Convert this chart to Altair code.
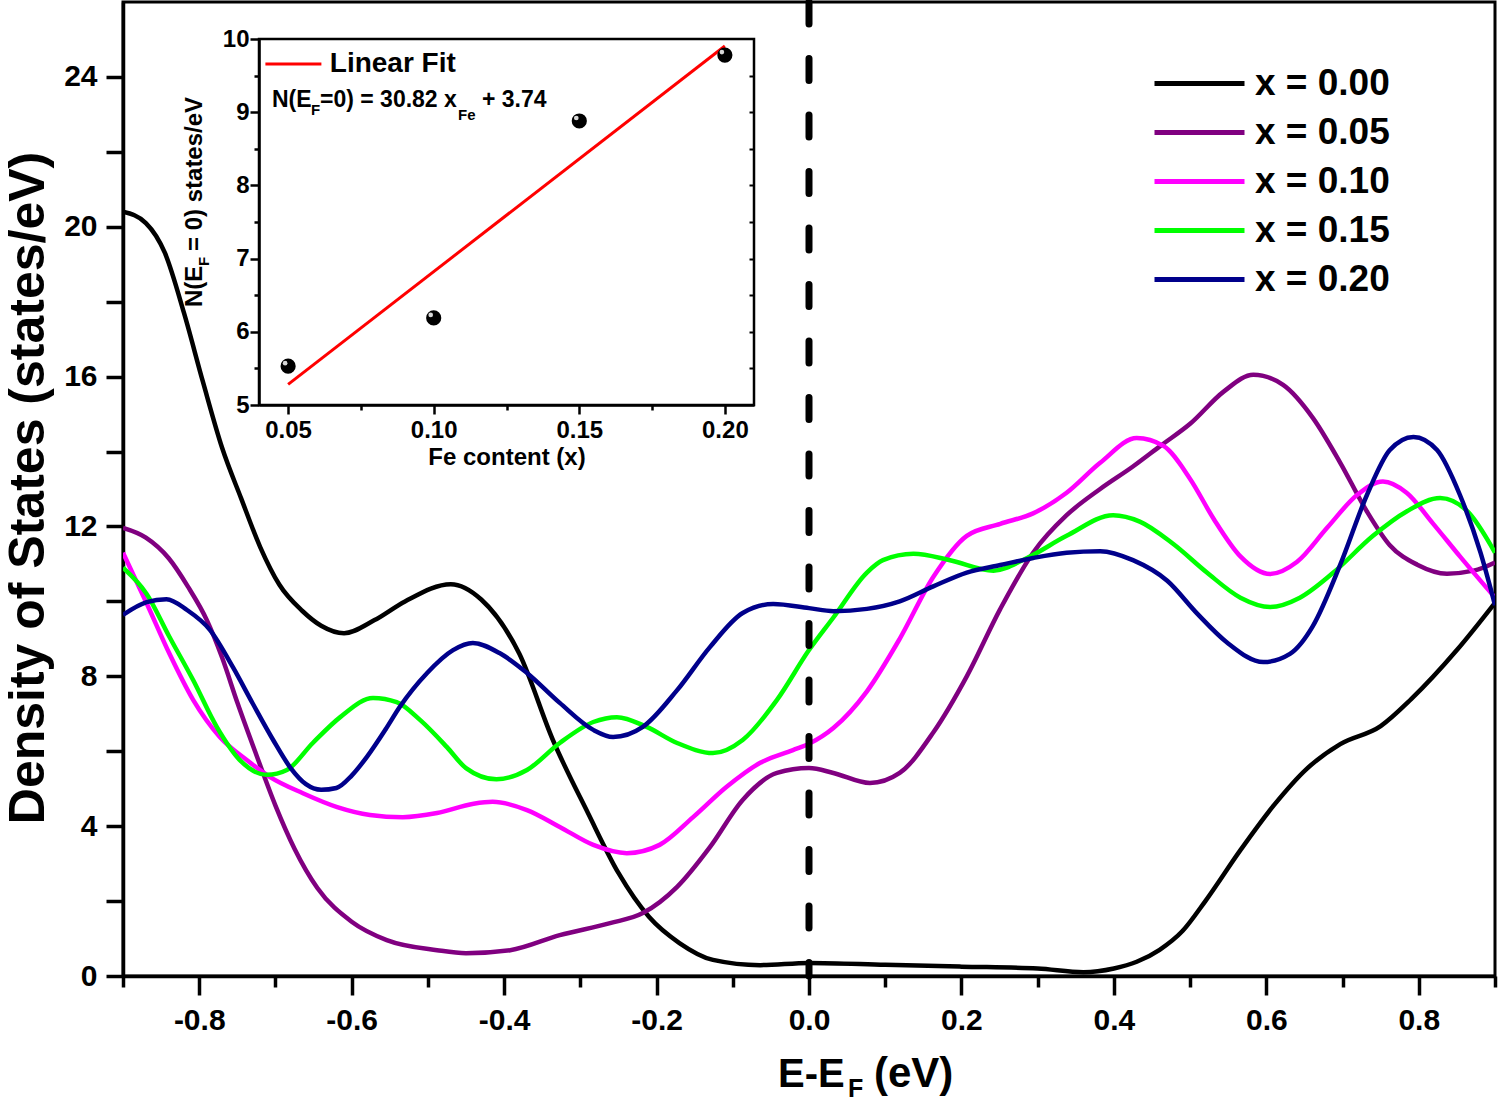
import altair as alt
import pandas as pd

# ---------------- main panel: density of states ----------------
series_names = ["x = 0.00", "x = 0.05", "x = 0.10", "x = 0.15", "x = 0.20"]
series_colors = ["#000000", "#800080", "#ff00ff", "#00ff00", "#00008b"]

e_000 = [-0.90, -0.87, -0.845, -0.82, -0.795, -0.77, -0.745, -0.72, -0.695, -0.665, -0.64, -0.61,
         -0.57, -0.53, -0.47, -0.43, -0.38, -0.336, -0.29, -0.25, -0.21, -0.17, -0.126, -0.064,
         0.0, 0.1, 0.2, 0.3, 0.36, 0.40, 0.43, 0.46, 0.49, 0.52, 0.566, 0.61, 0.653, 0.697,
         0.75, 0.79, 0.85, 0.90]
d_000 = [20.4, 20.1, 19.3, 17.7, 15.85, 14.1, 12.75, 11.45, 10.45, 9.75, 9.35, 9.15,
         9.5, 10.0, 10.46, 10.05, 8.6, 6.3, 4.35, 2.75, 1.58, 0.88, 0.43, 0.29,
         0.35, 0.3, 0.25, 0.2, 0.1, 0.2, 0.38, 0.7, 1.2, 2.0, 3.36, 4.56, 5.53, 6.19,
         6.67, 7.39, 8.7, 9.96]

e_005 = [-0.90, -0.87, -0.84, -0.815, -0.79, -0.77, -0.75, -0.725, -0.70, -0.675, -0.645,
         -0.60, -0.554, -0.488, -0.45, -0.392, -0.327, -0.261, -0.218, -0.173, -0.13, -0.087,
         -0.042, 0.0, 0.032, 0.08, 0.119, 0.163, 0.207, 0.251, 0.294, 0.338, 0.382, 0.425,
         0.461, 0.5, 0.544, 0.583, 0.622, 0.661, 0.697, 0.732, 0.762, 0.798, 0.837, 0.872, 0.90]
d_005 = [11.96, 11.7, 11.15, 10.4, 9.5, 8.5, 7.3, 5.9, 4.55, 3.4, 2.35,
         1.45, 0.96, 0.69, 0.61, 0.69, 1.09, 1.41, 1.68, 2.38, 3.44, 4.7,
         5.42, 5.55, 5.42, 5.15, 5.42, 6.5, 8.0, 9.8, 11.3, 12.3, 13.0, 13.6,
         14.15, 14.74, 15.6, 16.05, 15.78, 14.9, 13.7, 12.4, 11.5, 10.98, 10.74, 10.82, 11.04]

e_010 = [-0.90, -0.869, -0.839, -0.808, -0.773, -0.738, -0.707, -0.664, -0.619, -0.576, -0.533,
         -0.488, -0.44, -0.415, -0.37, -0.327, -0.283, -0.239, -0.196, -0.152, -0.108, -0.064,
         -0.021, 0.0, 0.032, 0.076, 0.119, 0.163, 0.207, 0.251, 0.294, 0.338, 0.382, 0.43,
         0.465, 0.5, 0.531, 0.566, 0.605, 0.64, 0.68, 0.719, 0.753, 0.784, 0.819, 0.854, 0.90]
d_010 = [11.3, 9.95, 8.6, 7.37, 6.38, 5.77, 5.31, 4.88, 4.51, 4.3, 4.24,
         4.35, 4.6, 4.65, 4.43, 3.98, 3.5, 3.28, 3.5, 4.24, 5.05, 5.69,
         6.03, 6.2, 6.62, 7.6, 9.0, 10.65, 11.75, 12.07, 12.35, 12.9, 13.7, 14.36,
         14.15, 13.27, 12.2, 11.2, 10.73, 11.05, 11.97, 12.84, 13.2, 12.9, 12.07, 11.2, 10.1]

e_015 = [-0.90, -0.869, -0.839, -0.808, -0.777, -0.747, -0.711, -0.685, -0.651, -0.615, -0.572,
         -0.541, -0.51, -0.475, -0.45, -0.41, -0.37, -0.327, -0.283, -0.252, -0.213, -0.173,
         -0.126, -0.087, -0.042, 0.0, 0.032, 0.076, 0.097, 0.137, 0.185, 0.242, 0.286, 0.338,
         0.399, 0.434, 0.478, 0.522, 0.566, 0.605, 0.644, 0.688, 0.74, 0.784, 0.828, 0.864, 0.90]
d_015 = [10.9, 10.2, 9.05, 7.9, 6.65, 5.77, 5.37, 5.5, 6.22, 6.91, 7.42,
         7.31, 6.83, 6.11, 5.55, 5.25, 5.5, 6.22, 6.78, 6.91, 6.65, 6.22,
         5.95, 6.3, 7.37, 8.7, 9.57, 10.77, 11.1, 11.27, 11.1, 10.82, 11.16, 11.75,
         12.3, 12.13, 11.53, 10.77, 10.1, 9.85, 10.1, 10.77, 11.75, 12.4, 12.76, 12.4, 11.3]

e_020 = [-0.90, -0.869, -0.843, -0.816, -0.786, -0.756, -0.73, -0.703, -0.68, -0.66, -0.64,
         -0.62, -0.60, -0.58, -0.555, -0.537, -0.501, -0.467, -0.441, -0.406, -0.37, -0.327,
         -0.283, -0.257, -0.218, -0.173, -0.13, -0.087, -0.047, 0.0, 0.032, 0.076, 0.119,
         0.163, 0.207, 0.251, 0.294, 0.338, 0.382, 0.425, 0.47, 0.509, 0.548, 0.596, 0.631,
         0.661, 0.697, 0.732, 0.762, 0.793, 0.824, 0.854, 0.881, 0.90]
d_020 = [9.64, 9.98, 10.06, 9.77, 9.24, 8.25, 7.28, 6.3, 5.55, 5.12, 4.97,
         5.02, 5.35, 5.85, 6.6, 7.18, 8.09, 8.7, 8.89, 8.62, 8.09, 7.29,
         6.57, 6.38, 6.65, 7.63, 8.78, 9.69, 9.93, 9.82, 9.74, 9.8, 10.0,
         10.4, 10.77, 10.97, 11.16, 11.3, 11.34, 11.1, 10.55, 9.68, 8.91, 8.38, 8.6,
         9.34, 10.98, 12.84, 14.04, 14.39, 14.04, 12.84, 11.3, 9.9]

x_major = [-0.8, -0.6, -0.4, -0.2, 0.0, 0.2, 0.4, 0.6, 0.8]
x_minor = [-0.9, -0.7, -0.5, -0.3, -0.1, 0.1, 0.3, 0.5, 0.7, 0.9]
y_ticks = list(range(0, 26, 2))

# ---------------- inset: N(E_F) versus Fe content ----------------
fe_content = [0.05, 0.10, 0.15, 0.20]
n_ef = [5.53, 6.19, 8.88, 9.78]
fit_slope = 30.82
fit_intercept = 3.74
fit_label = "Linear Fit"
inset_x_ticks = [0.05, 0.10, 0.15, 0.20]
inset_x_minor = [0.075, 0.125, 0.175]
inset_y_ticks = [5, 6, 7, 8, 9, 10]
inset_y_minor = [5.5, 6.5, 7.5, 8.5, 9.5]
inset_y_right = [5.5, 6, 6.5, 7, 7.5, 8, 8.5, 9, 9.5]

FONT = "Liberation Sans"
W, H = 1372, 974
# legend swatch: a horizontal stroke drawn as a custom symbol path
SWATCH = "M-5,0H5"

rows = []
for name, es, ds in zip(series_names,
                        [e_000, e_005, e_010, e_015, e_020],
                        [d_000, d_005, d_010, d_015, d_020]):
    for e, d in zip(es, ds):
        rows.append({"series": name, "energy": e, "dos": d})
dos_df = pd.DataFrame(rows)

x_scale = alt.Scale(domain=[-0.9, 0.9], nice=False, zero=False)
y_scale = alt.Scale(domain=[0, 26], nice=False, zero=False)

lines = alt.Chart(dos_df).mark_line(strokeWidth=4.5, interpolate="monotone", clip=True).encode(
    x=alt.X("energy:Q", scale=x_scale,
            axis=alt.Axis(orient="bottom", values=x_major, tickSize=19, tickWidth=3.5,
                          domainWidth=3.5, labelFontSize=30, labelPadding=10, labelFlush=False,
                          labelExpr="replace(format(datum.value, '.1f'), '\u2212', '-')",
                          title=None, grid=False)),
    y=alt.Y("dos:Q", scale=y_scale,
            axis=alt.Axis(values=y_ticks, tickSize=17, tickWidth=3.5, domainWidth=3.5,
                          labelFontSize=30, labelPadding=9, labelFlush=False,
                          labelExpr="datum.value % 4 == 0 ? datum.label : ''",
                          title=None, grid=False)),
    color=alt.Color("series:N",
                    scale=alt.Scale(domain=series_names, range=series_colors),
                    legend=alt.Legend(orient="none", legendX=1058, legendY=63, title=None,
                                      symbolType=SWATCH, symbolSize=324, symbolStrokeWidth=5,
                                      labelFont=FONT, labelFontWeight="bold", labelFontSize=37,
                                      labelColor="black", labelOffset=37, rowPadding=11,
                                      padding=0, labelLimit=400)),
    order=alt.Order("energy:Q"),
)

minor_ticks = alt.Chart(pd.DataFrame({"energy": x_minor})).mark_rule(strokeOpacity=0).encode(
    x=alt.X("energy:Q", scale=x_scale,
            axis=alt.Axis(orient="bottom", values=x_minor, tickSize=11, tickWidth=3.5,
                          labels=False, domain=False, title=None, grid=False)),
)

fermi = alt.Chart(pd.DataFrame({"energy": [0.0]})).mark_rule(
    color="black", strokeWidth=7, strokeDash=[22, 34.5], strokeCap="round"
).encode(x=alt.X("energy:Q", scale=x_scale, axis=None))


def label(txt, x, y, size, angle=0, align="left", baseline="alphabetic"):
    return alt.Chart(pd.DataFrame({"t": [txt]})).mark_text(
        align=align, baseline=baseline, fontSize=size, font=FONT, fontWeight="bold",
        angle=angle, color="black"
    ).encode(x=alt.value(x), y=alt.value(y), text="t:N")


titles = [
    # x-axis title E-E_F (eV)
    label("E-E", 655, 1085, 40),
    label("F", 725, 1095, 25),
    label("(eV)", 751, 1085, 42),
    # y-axis title
    label("Density of States (states/eV)", -79, 486, 50, angle=270, align="center"),
    # inset y-axis title N(E_F = 0) states/eV
    label("N(E", 79, 305, 24, angle=270),
    label("F", 86, 264, 15, angle=270),
    label("= 0) states/eV", 79, 249, 24, angle=270),
    # inset fit equation
    label("N(E", 149, 105, 23),
    label("F", 188, 113, 15),
    label("=0) = 30.82 x", 197, 105, 23),
    label("Fe", 335, 118, 15),
    label("+ 3.74", 359, 105, 23),
]

main = alt.layer(lines, minor_ticks, fermi, *titles).resolve_axis(x="independent")

# ---------------- inset layers ----------------
ix_scale = alt.Scale(domain=[0.04, 0.21], range=[136, 631], nice=False, zero=False)
iy_scale = alt.Scale(domain=[5, 10], range=[403, 37], nice=False, zero=False)

inset_df = pd.DataFrame({"fe": fe_content, "n": n_ef})
fit_df = pd.DataFrame({
    "fe": [fe_content[0], fe_content[-1]],
    "n": [fit_slope * fe_content[0] + fit_intercept, fit_slope * fe_content[-1] + fit_intercept],
    "label": [fit_label, fit_label],
})

frame = alt.Chart(pd.DataFrame({"x0": [0.04], "x1": [0.21], "y0": [5], "y1": [10]})).mark_rect(
    fill=None, stroke="black", strokeWidth=2.5
).encode(
    x=alt.X("x0:Q", scale=ix_scale, axis=None), x2="x1:Q",
    y=alt.Y("y0:Q", scale=iy_scale, axis=None), y2="y1:Q",
)

fit_line = alt.Chart(fit_df).mark_line(strokeWidth=3).encode(
    x=alt.X("fe:Q", scale=ix_scale, axis=None),
    y=alt.Y("n:Q", scale=iy_scale, axis=None),
    color=alt.Color("label:N", scale=alt.Scale(domain=[fit_label], range=["#ff0000"]),
                    legend=alt.Legend(orient="none", legendX=156.4, legendY=48, title=None,
                                      symbolType=SWATCH, symbolSize=125.4, symbolStrokeWidth=3,
                                      labelFont=FONT, labelFontWeight="bold", labelFontSize=28,
                                      labelColor="black", labelOffset=22.4, padding=0)),
)

points = alt.Chart(inset_df).mark_circle(size=230, color="black", opacity=1).encode(
    x=alt.X("fe:Q", scale=ix_scale,
            axis=alt.Axis(orient="bottom", offset=-571, values=inset_x_ticks, format=".2f",
                          tickSize=9, tickWidth=2.5, domainWidth=2.5, labelFontSize=24,
                          labelPadding=4, labelFlush=False, title="Fe content (x)",
                          titleFontSize=24, titlePadding=3, grid=False)),
    y=alt.Y("n:Q", scale=iy_scale,
            axis=alt.Axis(orient="left", offset=-136, values=inset_y_ticks, tickSize=9,
                          tickWidth=2.5, domainWidth=2.5, labelFontSize=24, labelPadding=1,
                          labelFlush=False, title=None, grid=False)),
)

shine = alt.Chart(inset_df).mark_circle(size=22, color="#d8d8d8", opacity=1,
                                        xOffset=-3, yOffset=-3).encode(
    x=alt.X("fe:Q", scale=ix_scale, axis=None),
    y=alt.Y("n:Q", scale=iy_scale, axis=None),
)

inset_minor = alt.Chart(inset_df).mark_point(opacity=0).encode(
    x=alt.X("fe:Q", scale=ix_scale,
            axis=alt.Axis(orient="bottom", offset=-571, values=inset_x_minor, tickSize=5,
                          tickWidth=2.5, labels=False, domain=False, title=None, grid=False)),
    y=alt.Y("n:Q", scale=iy_scale,
            axis=alt.Axis(orient="left", offset=-136, values=inset_y_minor, tickSize=5,
                          tickWidth=2.5, labels=False, domain=False, title=None, grid=False)),
)

# inward ticks along the right edge of the inset frame
inset_right = alt.Chart(inset_df).mark_point(opacity=0).encode(
    y=alt.Y("n:Q", scale=iy_scale,
            axis=alt.Axis(orient="left", offset=-631, values=inset_y_right, tickSize=5,
                          tickWidth=2, labels=False, domain=False, title=None, grid=False)),
)

inset = alt.layer(frame, fit_line, points, shine, inset_minor, inset_right).resolve_axis(
    x="independent", y="independent")

chart = alt.layer(main, inset).resolve_scale(
    x="independent", y="independent", color="independent"
).properties(
    width=W, height=H,
    autosize=alt.AutoSizeParams(type="none"),
    padding={"left": 123, "top": 2, "right": 5, "bottom": 127},
).configure(background="white").configure_view(
    stroke="black", strokeWidth=3
).configure_axis(
    grid=False, domainColor="black", tickColor="black", labelColor="black",
    labelFont=FONT, labelFontWeight="bold", titleFont=FONT, titleFontWeight="bold",
    titleColor="black"
)

chart.save("out.html", embed_options={"renderer": "svg", "actions": False})
